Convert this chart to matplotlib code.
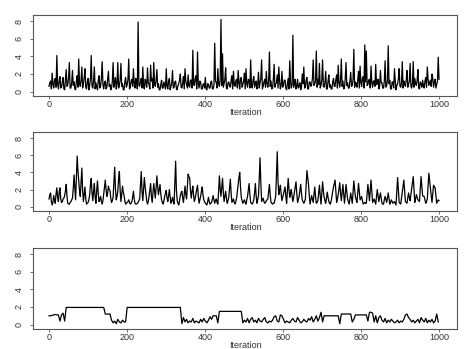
import numpy as np
import matplotlib
matplotlib.use("Agg")
import matplotlib.pyplot as plt

# ---- data ----
# panels 1 and 2: one value every 2 iterations
trace1 = [
    0.6,1.0, 1.2,0.3, 2.1,0.8, 0.4,1.3, 1.5,0.5, 4.1,0.9, 0.3,1.2, 1.7,0.4, 0.5,1.1, 1.6,0.3,
    0.2,1.4, 2.5,0.6, 0.8,1.5, 3.3,0.4, 0.4,1.0, 2.4,0.7, 1.1,0.3, 0.2,1.2, 1.8,0.5, 3.7,1.0,
    0.6,1.3, 2.8,0.4, 0.9,1.6, 2.6,0.5, 0.3,1.1, 1.5,0.2, 0.7,1.4, 4.1,0.6, 0.4,1.2, 2.8,0.3,
    1.0,0.5, 0.2,1.3, 1.8,0.4, 0.6,1.5, 3.4,0.8, 0.3,1.0, 1.2,0.3, 0.5,1.4, 2.3,0.6, 0.8,0.2,
    0.4,1.2, 3.3,0.5, 1.0,1.6, 0.3,0.9, 3.3,0.4, 0.7,1.3, 3.2,0.6, 0.9,0.2, 0.2,1.1, 1.6,0.5,
    0.8,1.4, 3.7,0.3, 0.5,1.2, 1.4,0.6, 2.6,0.9, 0.4,1.5, 1.2,0.3, 7.9,0.7, 0.6,1.1, 1.5,0.4,
    2.8,0.6, 0.3,1.4, 1.1,0.5, 2.7,1.0, 0.8,0.3, 3.0,1.2, 1.5,0.4, 3.3,0.9, 0.6,1.3, 2.5,0.5,
    0.9,0.2, 0.2,0.8, 1.3,0.4, 0.4,1.1, 0.7,0.3, 2.6,0.6, 0.3,1.2, 1.5,0.2, 0.6,0.9, 2.4,0.4,
    0.5,1.1, 1.2,0.3, 0.2,0.7, 0.9,1.3, 2.0,0.5, 0.4,1.0, 1.7,0.3, 2.6,1.2, 0.8,0.4, 1.9,0.6,
    0.5,1.3, 1.3,0.4, 4.7,0.8, 0.7,1.5, 1.8,0.3, 4.5,0.9, 0.4,1.2, 1.1,0.3, 0.3,0.8, 0.9,0.4,
    1.6,0.3, 0.2,0.9, 0.8,0.4, 0.4,1.1, 1.2,0.3, 0.3,0.7, 5.5,1.2, 1.0,0.4, 2.6,0.9, 0.6,1.3,
    8.2,0.7, 4.3,0.5, 0.9,1.4, 2.7,0.4, 0.3,1.0, 1.1,0.6, 0.5,1.3, 1.8,0.3, 2.3,0.8, 0.6,1.2,
    1.4,0.4, 2.4,1.0, 0.3,1.5, 1.6,0.5, 0.8,1.2, 2.1,0.3, 2.6,0.9, 0.5,1.4, 1.3,0.4, 3.6,0.8,
    0.4,1.3, 1.7,0.5, 0.9,1.2, 0.3,0.8, 2.2,0.4, 1.0,1.5, 3.6,0.3, 0.6,1.1, 1.4,0.5, 2.3,0.9,
    0.5,1.2, 4.5,0.6, 1.2,0.3, 0.4,1.4, 3.1,0.5, 0.9,1.0, 1.9,0.4, 2.8,1.2, 0.3,0.7, 2.3,0.5,
    0.7,1.3, 1.3,0.4, 0.2,0.9, 1.5,0.3, 3.5,1.1, 0.4,0.8, 6.4,0.5, 1.1,1.4, 0.3,0.6, 1.4,0.4,
    0.6,1.0, 0.2,0.5, 2.0,0.9, 2.8,0.4, 0.5,1.3, 1.6,0.3, 0.3,1.1, 1.1,0.6, 0.8,1.5, 3.6,0.7,
    0.9,1.2, 4.6,0.5, 1.4,0.8, 3.2,0.4, 0.7,1.3, 3.6,0.6, 0.5,1.0, 2.3,0.3, 0.3,1.2, 1.9,0.5,
    0.8,0.3, 0.3,1.1, 1.5,0.6, 0.6,1.4, 1.9,0.4, 3.0,1.0, 0.5,1.3, 3.7,0.6, 1.2,0.3, 0.4,1.5,
    3.3,0.7, 1.0,0.4, 0.4,1.2, 2.2,0.6, 0.7,1.4, 4.8,0.5, 1.1,0.9, 0.5,1.3, 2.3,0.4, 2.9,1.0,
    0.6,1.5, 1.7,0.4, 5.3,1.1, 4.6,0.7, 0.8,1.3, 1.4,0.4, 2.9,1.0, 0.5,1.2, 1.2,0.6, 3.1,0.8,
    0.9,1.4, 0.3,0.6, 2.4,1.0, 1.0,0.4, 0.4,1.2, 3.5,0.5, 0.7,1.3, 5.2,0.9, 1.3,0.3, 0.3,1.1,
    1.1,0.4, 2.6,1.2, 0.2,0.7, 0.9,1.5, 2.6,0.6, 0.5,1.0, 3.4,0.4, 1.2,0.8, 0.6,1.3, 2.4,0.5,
    0.8,1.2, 3.2,0.6, 0.4,1.0, 3.4,0.5, 1.5,0.9, 0.7,1.3, 2.5,0.4, 0.3,1.1, 0.9,0.5, 1.3,0.7,
    0.4,1.2, 1.6,0.5, 2.8,1.4, 0.7,1.0, 1.3,0.6, 2.0,1.5, 0.5,1.1, 1.4,0.4, 0.8,1.2, 3.9,1.4,
]

trace2 = [
    0.9,1.4, 1.6,0.6, 0.2,0.5, 1.3,0.8, 0.4,1.5, 2.2,1.1, 0.6,1.7, 2.2,0.9, 0.5,0.6, 0.9,1.0,
    1.3,1.8, 2.6,1.2, 0.4,0.3, 0.3,0.5, 0.6,0.8, 1.0,2.1, 3.7,2.2, 0.8,3.4, 5.9,4.2, 3.0,1.9,
    1.2,2.8, 4.5,1.9, 0.6,1.5, 2.3,0.9, 0.3,0.4, 0.5,0.8, 1.4,2.5, 3.3,1.6, 0.7,1.8, 2.7,1.1,
    0.4,1.9, 3.0,1.5, 0.6,0.8, 1.2,0.6, 0.3,0.7, 1.5,2.2, 3.1,2.0, 1.2,1.6, 2.4,2.0, 1.9,1.0,
    0.5,0.7, 1.1,2.9, 4.6,2.1, 0.8,1.2, 1.8,3.2, 4.1,1.9, 0.6,1.4, 2.4,1.7, 1.3,0.7, 0.3,0.4,
    0.5,0.6, 0.8,0.5, 0.3,0.4, 0.6,1.1, 1.8,0.9, 0.4,0.3, 0.3,0.4, 0.5,0.7, 0.9,2.6, 4.1,1.8,
    0.7,2.1, 3.4,2.3, 1.5,0.7, 0.3,0.6, 1.2,2.0, 2.7,1.2, 0.5,1.6, 2.7,1.8, 1.0,2.2, 3.6,2.4,
    1.4,2.0, 2.6,1.5, 0.8,0.5, 0.3,0.7, 1.2,1.6, 1.9,1.0, 0.6,1.3, 2.0,1.1, 0.4,0.7, 1.1,0.6,
    0.3,2.8, 5.3,1.9, 0.7,0.4, 0.2,0.7, 1.3,1.6, 1.8,1.0, 0.5,1.5, 2.4,1.4, 0.9,2.3, 3.8,3.5,
    3.3,1.9, 1.0,1.8, 2.4,1.3, 0.6,1.0, 1.5,2.0, 2.5,1.2, 0.4,0.8, 1.2,1.8, 2.3,1.4, 0.8,0.6,
    0.4,0.3, 0.2,0.6, 1.1,0.6, 0.3,0.4, 0.5,0.9, 1.3,0.8, 0.4,0.7, 0.9,0.5, 0.3,1.8, 3.6,2.1,
    1.2,2.3, 3.3,1.7, 0.6,1.2, 1.8,1.0, 0.4,0.7, 1.1,2.1, 3.2,1.6, 0.5,0.7, 0.9,0.5, 0.3,0.6,
    1.0,1.8, 2.5,3.4, 4.0,2.3, 1.1,0.7, 0.4,0.6, 0.8,0.5, 0.3,0.8, 1.2,1.9, 2.7,1.4, 0.5,0.4,
    0.3,0.5, 0.8,1.6, 2.7,1.3, 0.4,0.8, 1.3,3.3, 5.7,2.8, 0.6,0.8, 1.0,0.6, 0.4,0.5, 0.7,0.8,
    0.9,1.8, 2.6,1.4, 0.5,0.4, 0.3,0.4, 0.4,0.8, 1.2,3.6, 6.4,2.9, 1.4,2.0, 2.5,1.5, 0.7,1.1,
    1.5,1.9, 2.3,1.2, 0.4,1.8, 3.3,2.1, 1.1,1.6, 2.0,1.2, 0.6,1.1, 1.7,2.3, 2.9,1.6, 0.5,0.8,
    1.2,1.9, 2.6,1.6, 0.8,0.6, 0.4,0.6, 0.9,2.5, 4.2,3.4, 2.6,1.3, 0.3,0.8, 1.3,0.9, 0.5,1.4,
    2.3,1.2, 0.4,0.5, 0.7,1.6, 2.5,1.3, 0.3,1.5, 2.9,1.9, 1.1,0.7, 0.4,1.0, 1.7,1.1, 0.6,0.4,
    0.3,0.7, 1.2,1.8, 2.3,2.7, 3.1,1.8, 0.5,0.9, 1.4,2.1, 2.8,1.6, 0.7,1.7, 2.6,1.5, 0.4,1.4,
    2.6,1.7, 0.9,0.6, 0.3,0.9, 1.6,1.0, 0.4,1.7, 3.0,2.0, 1.2,0.8, 0.5,1.6, 2.7,1.7, 0.8,1.0,
    1.2,0.7, 0.3,0.4, 0.5,0.4, 0.4,1.5, 2.6,1.6, 0.7,1.9, 3.1,1.8, 0.5,0.7, 0.9,0.6, 0.3,1.1,
    2.0,1.3, 0.6,1.1, 1.6,1.0, 0.4,0.3, 0.3,0.8, 1.2,0.9, 0.5,1.0, 1.6,0.9, 0.3,0.5, 0.8,0.6,
    0.4,0.5, 0.6,0.4, 0.2,1.8, 3.4,1.9, 0.5,0.4, 0.3,1.0, 1.8,2.5, 3.1,1.8, 0.6,0.5, 0.4,1.0,
    1.6,1.1, 0.7,1.4, 2.2,2.9, 3.5,2.0, 0.5,0.9, 1.4,1.1, 0.8,0.7, 0.6,2.0, 3.5,2.4, 1.3,1.2,
    1.2,0.8, 0.4,0.6, 0.9,2.4, 3.9,3.0, 2.1,1.3, 0.5,1.5, 2.5,2.3, 2.2,1.3, 0.4,0.6, 0.8,0.7,
]

# panel 3: one value every 4 iterations
trace3 = [
    1.0, 1.0, 1.05, 1.1, 1.15, 1.1, 1.1, 0.4, 1.1, 1.3,
    0.4, 1.95, 1.95, 1.95, 1.95, 1.95, 1.95, 1.95, 1.95, 1.95,
    1.95, 1.95, 1.95, 1.95, 1.95, 1.95, 1.95, 1.95, 1.95, 1.95,
    1.95, 1.95, 1.95, 1.95, 1.95, 1.95, 1.2, 1.2, 1.2, 1.2,
    0.5, 0.2, 0.4, 0.1, 0.6, 0.3, 0.2, 0.5, 0.3, 0.3,
    1.95, 1.95, 1.95, 1.95, 1.95, 1.95, 1.95, 1.95, 1.95, 1.95,
    1.95, 1.95, 1.95, 1.95, 1.95, 1.95, 1.95, 1.95, 1.95, 1.95,
    1.95, 1.95, 1.95, 1.95, 1.95, 1.95, 1.95, 1.95, 1.95, 1.95,
    1.95, 1.95, 1.95, 1.95, 1.95, 0.1, 0.8, 0.3, 0.6, 0.2,
    0.4, 0.3, 0.7, 0.2, 0.4, 0.3, 0.2, 0.6, 0.3, 0.7,
    0.4, 0.2, 0.5, 0.9, 0.6, 1.0, 1.0, 1.0, 0.2, 1.5,
    1.5, 1.5, 1.5, 1.5, 1.5, 1.5, 1.5, 1.5, 1.5, 1.5,
    1.5, 1.5, 1.5, 1.5, 0.2, 0.5, 0.3, 0.7, 0.2, 0.6,
    0.8, 0.3, 0.5, 0.2, 0.7, 0.4, 0.3, 0.6, 0.8, 0.3,
    0.2, 0.4, 0.3, 0.5, 0.9, 1.0, 0.4, 0.3, 1.1, 1.0,
    0.6, 0.2, 0.4, 0.3, 0.2, 0.5, 0.7, 0.4, 0.3, 0.8,
    0.5, 0.2, 0.3, 0.6, 0.4, 0.3, 0.7, 0.5, 0.9, 0.3,
    0.6, 1.0, 0.4, 0.8, 1.4, 0.3, 1.0, 1.0, 1.0, 1.0,
    1.0, 1.0, 1.0, 1.0, 1.0, 1.0, 0.1, 1.2, 1.2, 1.2,
    1.2, 1.2, 1.2, 1.2, 0.3, 0.6, 1.1, 1.1, 1.1, 1.1,
    1.1, 1.1, 1.1, 1.1, 0.4, 1.4, 1.4, 1.3, 0.3, 1.0,
    0.2, 0.8, 1.0, 0.5, 0.3, 0.7, 0.2, 0.5, 0.3, 0.6,
    0.4, 0.2, 0.3, 0.5, 0.2, 0.4, 0.3, 0.6, 1.1, 1.2,
    0.8, 0.6, 0.3, 0.5, 0.2, 0.4, 0.6, 0.2, 0.8, 0.5,
    0.3, 0.7, 0.2, 0.5, 0.3, 0.6, 0.2, 0.4, 1.2, 0.3,
]

x_ticks = [0, 200, 400, 600, 800, 1000]
y_ticks = [0, 2, 4, 6, 8]
x_label = "Iteration"

# ---- figure ----
W, H = 474, 349
fig = plt.figure(figsize=(W / 100, H / 100), dpi=100)
plt.rcParams["font.family"] = ["Liberation Sans", "DejaVu Sans"]

# panel boxes in pixels: (left, right, top, bottom), and sampling step
boxes = [(33, 457, 15, 96), (33, 457, 132, 211), (33, 457, 248, 329)]
traces = [trace1, trace2, trace3]
steps = [1000 // len(trace1), 1000 // len(trace2), 1000 // len(trace3)]
edge = "#555555"
txt = "#333333"

for (l, r, t, b), tr, st in zip(boxes, traces, steps):
    ax = fig.add_axes([l / W, 1 - b / H, (r - l) / W, (b - t) / H])
    it = np.arange(len(tr)) * st + 1
    ax.plot(it, tr, color="black", lw=0.9)
    ax.set_xlim(-40, 1045)
    ax.set_ylim(-0.5, 8.7)
    ax.set_xticks(x_ticks)
    ax.set_yticks(y_ticks)
    ax.set_xticklabels([str(v) for v in x_ticks])
    ax.set_yticklabels([str(v) for v in y_ticks], rotation=90, va="center")
    ax.tick_params(axis="both", direction="out", length=2.5, width=0.6,
                   colors=edge, labelcolor=txt, labelsize=6.5)
    ax.tick_params(axis="y", pad=4)
    ax.tick_params(axis="x", pad=0.5)
    for s in ax.spines.values():
        s.set_color(edge)
        s.set_linewidth(0.8)
    ax.set_xlabel(x_label, fontsize=6.5, color=txt, labelpad=-1)

fig.savefig("out.png", dpi=100)
